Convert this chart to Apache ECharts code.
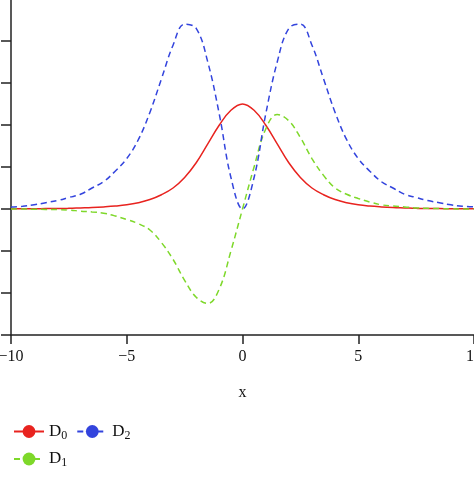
<!DOCTYPE html>
<html><head><meta charset="utf-8">
<script src="https://cdn.jsdelivr.net/npm/echarts@6/dist/echarts.min.js"></script>
<style>html,body{margin:0;padding:0;background:#fff}#c{width:474px;height:478px}</style>
</head><body><div id="c"></div>
<script>
const xs = [-10,-9.5,-9,-8.5,-8,-7.5,-7,-6.5,-6,-5.5,-5,-4.5,-4,-3.5,-3,-2.5,-2,-1.5,-1,-0.5,0,0.5,1,1.5,2,2.5,3,3.5,4,4.5,5,5.5,6,6.5,7,7.5,8,8.5,9,9.5,10];
const d0 = [0.001,0.001,0.001,0.002,0.002,0.003,0.005,0.007,0.01,0.014,0.02,0.03,0.045,0.068,0.1,0.15,0.22,0.31,0.40,0.47,0.5,0.47,0.40,0.31,0.22,0.15,0.1,0.068,0.045,0.03,0.02,0.014,0.01,0.007,0.005,0.003,0.002,0.002,0.001,0.001,0.001];
const d1 = [0,0,-0.001,-0.002,-0.003,-0.005,-0.01,-0.014,-0.02,-0.033,-0.05,-0.07,-0.1,-0.16,-0.24,-0.34,-0.42,-0.45,-0.38,-0.2,0,0.2,0.38,0.45,0.42,0.34,0.24,0.16,0.1,0.07,0.05,0.033,0.02,0.014,0.01,0.005,0.003,0.002,0.001,0,0];
const d2 = [0.01,0.013,0.02,0.03,0.04,0.055,0.07,0.1,0.13,0.18,0.24,0.33,0.46,0.62,0.78,0.88,0.86,0.70,0.45,0.15,0,0.15,0.45,0.70,0.86,0.88,0.78,0.62,0.46,0.33,0.24,0.18,0.13,0.1,0.07,0.055,0.04,0.03,0.02,0.013,0.01];
const names = ['D0','D1','D2'];
const colors = ['#e8231f','#7ed82a','#3344dd'];
const pair = a => xs.map((x,i)=>[x,a[i]]);
const F = 'Liberation Serif';
const chart = echarts.init(document.getElementById('c'));
chart.setOption({
  animation:false,
  grid:{left:11,right:0,top:-1,bottom:143,containLabel:false,outerBoundsMode:'none'},
  xAxis:{type:'value',min:-10,max:10,interval:5,name:'x',nameLocation:'middle',nameGap:50,
    nameTextStyle:{fontFamily:F,fontSize:16,color:'#111'},
    axisLine:{onZero:false,lineStyle:{color:'#222',width:1.5}},
    axisTick:{show:true,length:9,lineStyle:{color:'#222',width:1.5}},
    axisLabel:{fontFamily:F,fontSize:16,color:'#111',margin:14,formatter:v=>String(v).replace('-','\u2212')},
    splitLine:{show:false}},
  yAxis:{type:'value',min:-0.6,max:1,interval:0.2,
    axisLine:{show:true,onZero:false,lineStyle:{color:'#222',width:1.5}},
    axisTick:{show:true,length:10,lineStyle:{color:'#222',width:1.5}},
    axisLabel:{show:false},splitLine:{show:false}},
  legend:{orient:'vertical',left:8,top:418,width:120,itemGap:9,itemWidth:30,itemHeight:16,
    data:names,
    formatter:n=>'{a|D}{s|'+n.slice(1)+'}',
    textStyle:{rich:{a:{fontFamily:F,fontSize:17,color:'#111'},s:{fontFamily:F,fontSize:12,color:'#111',padding:[8,0,0,0]}}}},
  series:[d0,d1,d2].map((a,i)=>({name:names[i],type:'line',data:pair(a),smooth:0.4,symbol:'none',showSymbol:false,
    itemStyle:{color:colors[i]},
    lineStyle:{color:colors[i],width:1.5,type:i===0?'solid':[6,4]}}))
});
</script></body></html>
